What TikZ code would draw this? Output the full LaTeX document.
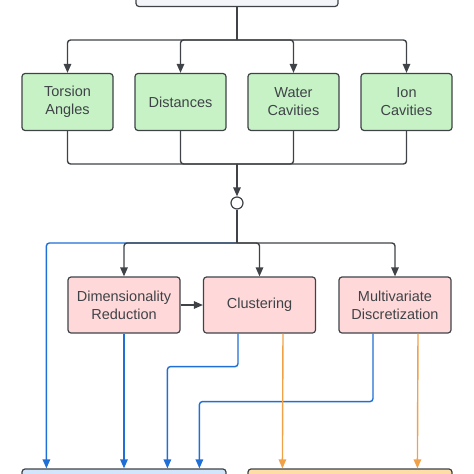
\documentclass[tikz,border=0pt]{standalone}
\usepackage{fontspec}
\setmainfont{Liberation Sans}
\usetikzlibrary{arrows.meta}
\tikzset{>={Triangle[length=9pt,width=7.5pt]}}
\definecolor{inkgray}{HTML}{3F4347}
\definecolor{srcfill}{HTML}{F3F5F9}
\definecolor{featfill}{HTML}{C6F2C6}
\definecolor{methfill}{HTML}{FFD9DA}
\definecolor{predfill}{HTML}{D3E5FA}
\definecolor{mixfill}{HTML}{FFDDA6}
\definecolor{bluelink}{HTML}{1F6FD6}
\definecolor{orangelink}{HTML}{F0A248}

\begin{document}
\begin{tikzpicture}[x=1pt, y=-1pt,
  box/.style={draw=inkgray, line width=1.2pt, rounded corners=3pt, align=center,
    text=inkgray, font=\fontsize{14.5}{18}\selectfont, inner sep=0pt},
  feat/.style={box, fill=featfill, minimum width=91pt, minimum height=57pt},
  meth/.style={box, fill=methfill, minimum width=112pt, minimum height=56pt},
  link/.style={draw=inkgray, line width=1.4pt, rounded corners=3pt},
  bluearrow/.style={->, draw=bluelink, line width=1.4pt, rounded corners=3pt},
  orangearrow/.style={->, draw=orangelink, line width=1.4pt}]
\useasboundingbox (0,0) rectangle (474,474);
\clip (0,0) rectangle (474,474);

\node[box, fill=srcfill, minimum width=202pt, minimum height=30pt] (src) at (237,-8.5) {};

\node[feat] (tors) at (67.5,102) {Torsion\\Angles};
\node[feat] (dist) at (180.5,102) {Distances};
\node[feat] (water) at (293.5,102) {Water\\Cavities};
\node[feat] (ion) at (406.5,102) {Ion\\Cavities};

\node[draw=inkgray, line width=1.2pt, fill=white, circle, minimum size=12pt, inner sep=0pt] (circ) at (237,203) {};

\node[meth] (dimred) at (124,305) {Dimensionality\\Reduction};
\node[meth] (clust) at (259.5,305) {Clustering};
\node[meth] (multi) at (395,305) {Multivariate\\Discretization};

\node[box, fill=predfill, minimum width=204pt, minimum height=30pt] (pred) at (124,484) {};
\node[box, fill=mixfill, minimum width=204pt, minimum height=30pt] (mixed) at (350,484) {};

\coordinate (split1) at (237,40);
\coordinate (merge) at (237,164);
\coordinate (split2) at (237,243);

% features
\draw[link] (src) -- (split1);
\foreach \f in {tors,dist,water,ion}
  \draw[link,->] (split1) -| (\f);
\foreach \f in {tors,dist,water,ion}
  \draw[link] (\f) |- (merge);
\draw[link,->] (merge) -- (circ);

% methods
\draw[bluearrow] (split2) -| ([xshift=25pt]pred.north west);
\draw[link] (circ) -- (split2);
\foreach \m in {dimred,clust,multi}
  \draw[link,->] (split2) -| (\m);
\draw[link,->] (dimred) -- (clust);

% outputs
\draw[bluearrow] (dimred) -- (dimred |- pred.north);
\draw[bluearrow] ([xshift=-21.5pt]clust.south) -- ++(0,33) -| ([xshift=146pt]pred.north west);
\draw[bluearrow] ([xshift=-22pt]multi.south) -- ++(0,68) -| ([xshift=178pt]pred.north west);
\draw[orangearrow] ([xshift=23.5pt]clust.south) -- ([xshift=35pt]mixed.north west);
\draw[orangearrow] ([xshift=23pt]multi.south) -- ([xshift=170pt]mixed.north west);
\end{tikzpicture}
\end{document}
